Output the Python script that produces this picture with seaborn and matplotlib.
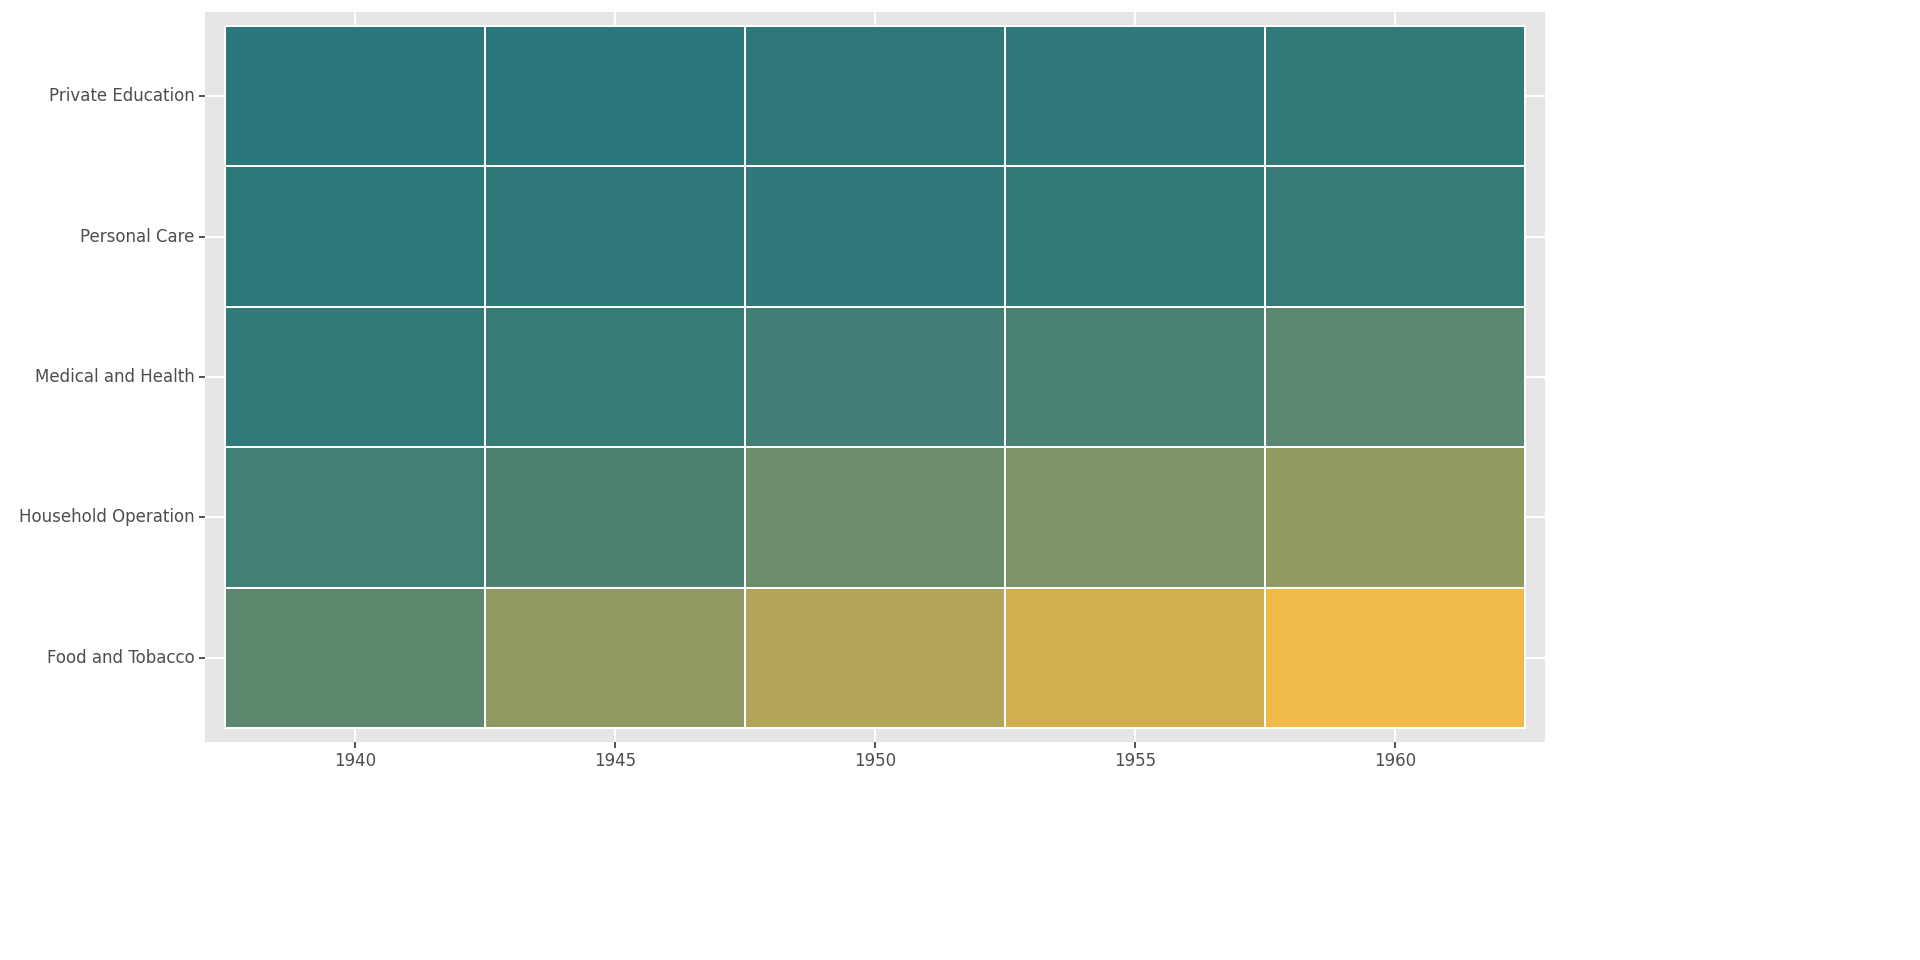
import numpy as np
import pandas as pd
import seaborn as sns
import matplotlib.pyplot as plt
from matplotlib.colors import LinearSegmentedColormap

years = [1940, 1945, 1950, 1955, 1960]
categories = ["Private Education", "Personal Care", "Medical and Health",
              "Household Operation", "Food and Tobacco"]
private_education = [0.341, 0.974, 1.80, 2.60, 3.64]
personal_care = [1.04, 1.98, 2.45, 3.40, 5.40]
medical_health = [3.53, 5.76, 9.71, 14.0, 21.1]
household_operation = [10.5, 15.5, 29.0, 36.5, 46.2]
food_tobacco = [22.2, 44.5, 59.6, 73.2, 86.8]

data = pd.DataFrame([private_education, personal_care, medical_health,
                     household_operation, food_tobacco],
                    index=categories, columns=years)

cmap = LinearSegmentedColormap.from_list("tealgold", ["#2b777b", "#f0b948"])

fig = plt.figure(figsize=(19.2, 9.6), dpi=100)
ax = fig.add_axes([205 / 1920, 1 - 742 / 960, 1340 / 1920, 730 / 960])
ax.set_facecolor("#e5e5e5")
sns.heatmap(data, ax=ax, cmap=cmap, cbar=False, linewidths=1.2, linecolor="white")
ax.set_xlim(-0.077, 5.077)
ax.set_ylim(5.1, -0.1)
ax.grid(True, color="white", linewidth=1.6, zorder=0)
ax.set_axisbelow(True)
for s in ax.spines.values():
    s.set_visible(False)
ax.set_xlabel("")
ax.set_ylabel("")
ax.tick_params(axis="both", length=4, width=1.2, color="#333333", labelcolor="#4d4d4d", labelsize=12)
plt.setp(ax.get_yticklabels(), rotation=0)
plt.setp(ax.get_xticklabels(), rotation=0)
fig.savefig("out.png", dpi=100, facecolor="white")
